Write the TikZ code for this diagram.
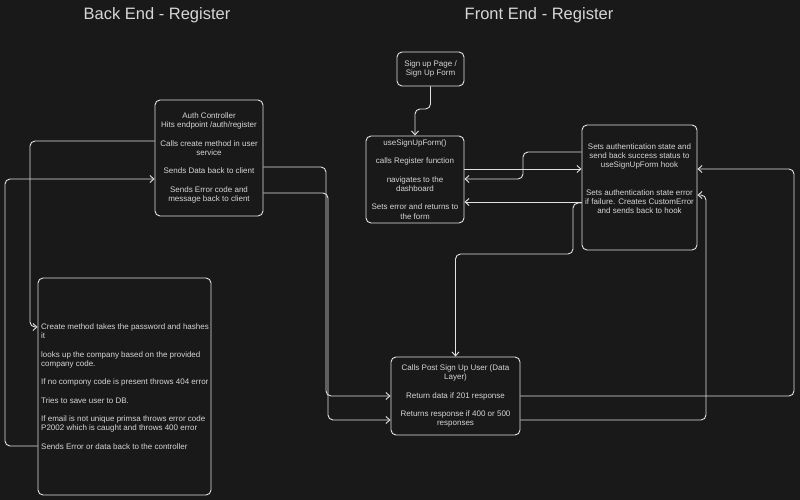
\documentclass[tikz,border=0pt]{standalone}
\usepackage{fontspec}
\setmainfont{Liberation Sans}
\usetikzlibrary{arrows.meta,calc}
\definecolor{bgc}{HTML}{191919}
\definecolor{linec}{HTML}{E2E2E2}
\definecolor{textc}{HTML}{D6D6D6}
\tikzset{
  box/.style={draw=linec, fill=bgc, line width=0.9pt, rounded corners=5pt, inner sep=0pt,
    align=center, text=textc, font=\fontsize{8}{9.2}\selectfont},
  plain/.style={inner sep=0pt, align=center, text=textc, font=\fontsize{8}{9.2}\selectfont},
  title/.style={inner sep=0pt, text=textc, font=\fontsize{16.5}{18}\selectfont},
  conn/.style={draw=linec, line width=0.9pt, rounded corners=5pt,
    -{Straight Barb[length=4pt,width=7pt,line width=0.9pt]}}
}
\begin{document}
\begin{tikzpicture}[x=1pt,y=-1pt]
\fill[bgc] (0,0) rectangle (800,500);
\useasboundingbox (0,0) rectangle (800,500);

\node[title] (t1) at (157,15) {Back End - Register};
\node[title] (t2) at (539,15) {Front End - Register};

\node[box, minimum width=108pt, minimum height=116pt] (auth) at (209,158)
  {Auth Controller\\Hits endpoint /auth/register\\[9.2pt]Calls create method in user\\service\\[9.2pt]Sends Data back to client\\[9.2pt]Sends Error code and\\message back to client};

\node[box, minimum width=173pt, minimum height=217pt] (svc) at (124.5,386.5) {};
\node[plain, align=left, anchor=west] (svctext) at (41,386.5)
  {Create method takes the password and hashes\\it\\[9.2pt]looks up the company based on the provided\\company code.\\[9.2pt]If no compony code is present throws 404 error\\[9.2pt]Tries to save user to DB.\\[9.2pt]If email is not unique primsa throws error code\\P2002 which is caught and throws 400 error\\[9.2pt]Sends Error or data back to the controller};

\node[box, minimum width=67pt, minimum height=34pt] (signup) at (430.5,69)
  {Sign up Page /\\Sign Up Form};

\node[box, minimum width=98pt, minimum height=87pt] (usf) at (415,179.5)
  {useSignUpForm()\\[9.2pt]calls Register function\\[9.2pt]navigates to the\\dashboard\\[9.2pt]Sets error and returns to\\the form};

\node[box, minimum width=115pt, minimum height=125pt] (sa) at (639.5,187.5) {};
\node[plain] (satext) at (639.5,178.5)
  {Sets authentication state and\\send back success status to\\useSignUpForm hook\\[18.4pt]Sets authentication state error\\if failure. Creates CustomError\\and sends back to hook};

\node[box, minimum width=129pt, minimum height=78pt] (post) at (455.5,396)
  {Calls Post Sign Up User (Data\\Layer)\\[9.2pt]Return data if 201 response\\[9.2pt]Returns response if 400 or 500\\responses};

% back end connectors
\draw[conn] (auth.west |- 0,141) -| (30,327) -- (svc.west |- 0,327);
\draw[conn] (svc.west |- 0,446) -| (5,179) -- (auth.west |- 0,179);
\draw[conn] (auth.east |- 0,167) -| (326,396) -- (post.west |- 0,396);
\draw[conn] (auth.east |- 0,193) -| (328,420) -- (post.west |- 0,420);

% front end connectors
\draw[conn] (signup.south) |- (415,109) -- (usf.north -| 415,0);
\draw[conn] (usf.east |- 0,169) -- (sa.west |- 0,169);
\draw[conn] (sa.west |- 0,152) -| (523,179) -- (usf.east |- 0,179);
\draw[conn] (sa.west |- 0,202) -- (usf.east |- 0,202);
\draw[conn] (sa.west |- 0,203) -| (573,254) -| (post.north);
\draw[conn] (post.east |- 0,396) -| (794,169) -- (sa.east |- 0,169);
\draw[conn] (post.east |- 0,420) -| (706,195) -- (sa.east |- 0,195);
\end{tikzpicture}
\end{document}
